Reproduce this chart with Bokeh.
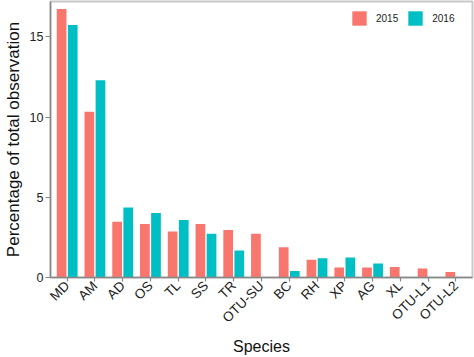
import math
from bokeh.plotting import figure
from bokeh.models import ColumnDataSource, Range1d, FixedTicker, Legend, LegendItem
from bokeh.transform import dodge
from bokeh.embed import file_html
from bokeh.resources import INLINE

species = ["MD", "AM", "AD", "OS", "TL", "SS", "TR", "OTU-SU", "BC", "RH", "XP", "AG", "XL", "OTU-L1", "OTU-L2"]
pct_2015 = [16.73, 10.33, 3.48, 3.33, 2.86, 3.33, 2.96, 2.73, 1.88, 1.10, 0.62, 0.62, 0.66, 0.56, 0.35]
pct_2016 = [15.73, 12.30, 4.37, 4.02, 3.58, 2.73, 1.68, 0.0, 0.41, 1.20, 1.24, 0.87, 0.0, 0.0, 0.0]
y_ticks = [0, 5, 10, 15]

FONT = "Liberation Sans"
C15 = "#F8766D"
C16 = "#00BFC4"

idx = list(range(len(species)))
src = ColumnDataSource(dict(idx=idx, y15=pct_2015, y16=pct_2016))

p = figure(width=474, height=357, output_backend="svg", toolbar_location=None,
           x_range=Range1d(-0.6, len(species) - 0.4), y_range=Range1d(0, 17.2),
           min_border_left=0, min_border_right=2, min_border_top=1, min_border_bottom=0)

r15 = p.vbar(x=dodge("idx", -0.2), top="y15", width=0.35, source=src, fill_color=C15, line_color=None)
r16 = p.vbar(x=dodge("idx", 0.2), top="y16", width=0.35, source=src, fill_color=C16, line_color=None)

p.xgrid.visible = False
p.ygrid.visible = False
p.background_fill_color = "white"
p.border_fill_color = "white"
p.outline_line_color = "#c8c8c8"
p.outline_line_width = 2

p.xaxis.ticker = FixedTicker(ticks=idx)
p.xaxis.major_label_overrides = {i: s for i, s in enumerate(species)}
p.xaxis.major_label_orientation = math.pi / 4
p.yaxis.ticker = FixedTicker(ticks=y_ticks)

for ax in (p.xaxis[0], p.yaxis[0]):
    ax.axis_line_color = "#888888"
    ax.axis_line_width = 1.5
    ax.major_tick_line_color = "#888888"
    ax.major_tick_line_width = 1.2
    ax.major_tick_in = 0
    ax.minor_tick_line_color = None
    ax.major_label_text_font = FONT
    ax.major_label_text_color = "#222222"
    ax.axis_label_text_font = FONT
    ax.axis_label_text_font_style = "normal"
    ax.axis_label_text_color = "#111111"

p.xaxis.major_tick_out = 4
p.yaxis.major_tick_out = 5
p.xaxis.major_label_text_font_size = "13.5px"
p.yaxis.major_label_text_font_size = "12.5px"
p.xaxis.axis_label_text_font_size = "16px"
p.yaxis.axis_label_text_font_size = "17px"
p.xaxis.axis_label = "Species"
p.yaxis.axis_label = "Percentage of total observation"
p.xaxis.major_label_standoff = 2
p.yaxis.major_label_standoff = 2
p.xaxis.axis_label_standoff = 4
p.yaxis.axis_label_standoff = 4

legend = Legend(items=[LegendItem(label="2015", renderers=[r15]),
                       LegendItem(label="2016", renderers=[r16])],
                location=(300, 250), orientation="horizontal",
                label_text_font=FONT, label_text_font_size="10px", label_text_color="#222222",
                glyph_width=18, glyph_height=18, spacing=8, label_standoff=8,
                border_line_color=None, background_fill_alpha=0, margin=0, padding=2)
p.add_layout(legend)

open("out.html", "w").write(file_html(p, INLINE))
